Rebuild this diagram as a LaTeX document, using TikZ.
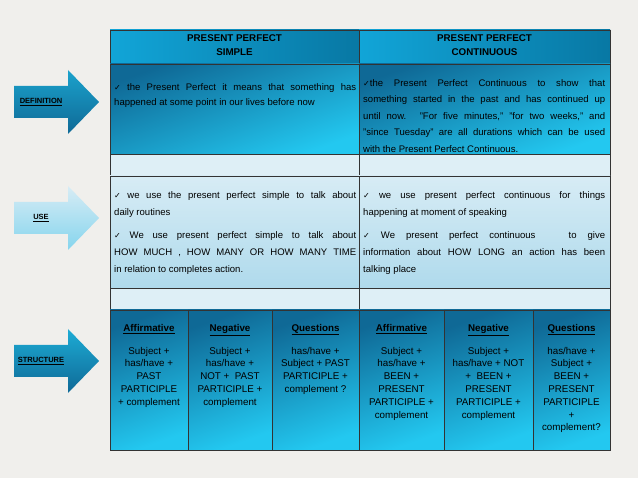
\documentclass[tikz,border=0pt]{standalone}
\usepackage{fontspec}
\setmainfont{Liberation Sans}
\newfontfamily\symf{DejaVu Sans}
\hyphenpenalty=10000
\exhyphenpenalty=10000
\hbadness=10000
\hfuzz=20pt
\definecolor{bg}{RGB}{240,239,236}
\definecolor{dkb}{RGB}{15,105,150}
\definecolor{brb}{RGB}{35,200,240}
\definecolor{hdb}{RGB}{10,150,205}
\definecolor{gapc}{RGB}{222,239,246}
\definecolor{lub}{RGB}{215,236,245}
\definecolor{lub2}{RGB}{175,218,236}
\newcommand{\ck}{{\symf\footnotesize ✓}}
\tikzset{
 cell/.style={draw=black!80, line width=0.8pt},
 dark/.style={cell, top color=dkb, bottom color=brb, shading angle=20},
 hdr/.style={cell, left color=hdb!70!brb, right color=hdb!80!black},
 gap/.style={cell, fill=gapc},
 light/.style={cell, top color=lub, bottom color=lub2},
 txt/.style={font=\fontsize{9.55}{17}\selectfont, align=justify, text width=242pt, anchor=north west, inner sep=0pt},
 htxt/.style={font=\fontsize{9.8}{14}\selectfont\bfseries, align=center},
 stxt/.style={font=\fontsize{9.8}{12.8}\selectfont, align=center, anchor=north, inner sep=0pt},
 alab/.style={font=\fontsize{7.5}{9}\selectfont\bfseries, anchor=center}
}
\newcommand{\arrowshape}[1]{(14,#1-16) -- (68,#1-16) -- (68,#1-32) -- (99,#1) -- (68,#1+32) -- (68,#1+16) -- (14,#1+16) -- cycle}
\begin{document}
\begin{tikzpicture}[x=1pt,y=-1pt]
\fill[bg] (0,0) rectangle (638,478);
\useasboundingbox (0,0) rectangle (638,478);
% header
\draw[hdr] (110,30) rectangle (359,64);
\draw[hdr] (359,30) rectangle (610,64);
\node[htxt] (h1) at (234.5,45) {PRESENT PERFECT\\SIMPLE};
\node[htxt] (h2) at (484.5,45) {PRESENT PERFECT\\CONTINUOUS};
% definition
\draw[dark] (110,64) rectangle (359,154);
\draw[dark] (359,64) rectangle (610,154);
\node[txt, font=\fontsize{9.55}{15}\selectfont] (d1) at (114,83) {\ck{} the Present Perfect it means that something has\linebreak happened at some point in our lives before now};
\node[txt, font=\fontsize{9.55}{16.5}\selectfont] (d2) at (363,79) {\ck{}the Present Perfect Continuous to show that\linebreak something started in the past and has continued up\linebreak until now. "For five minutes," "for two weeks," and\linebreak "since Tuesday" are all durations which can be used\linebreak with the Present Perfect Continuous.};
\draw[gap] (110,154) rectangle (359,176);
\draw[gap] (359,154) rectangle (610,176);
% use
\draw[light] (110,176) rectangle (359,288);
\draw[light] (359,176) rectangle (610,288);
\node[txt] (u1) at (114,191) {\ck{} we use the present perfect simple to talk about\linebreak daily routines\\[6pt]\ck{} We use present perfect simple to talk about\linebreak HOW MUCH , HOW MANY OR HOW MANY TIME\linebreak in relation to completes action.};
\node[txt] (u2) at (363,191) {\ck{} we use present perfect continuous for things\linebreak happening at moment of speaking\\[6pt]\ck{} We present perfect continuous \ \ to give\linebreak information about HOW LONG an action has been\linebreak talking place};
\draw[gap] (110,288) rectangle (359,310);
\draw[gap] (359,288) rectangle (610,310);
% structure
\foreach \a/\b in {110/188,188/272,272/359,359/444,444/533,533/610}{
 \draw[dark] (\a,310) rectangle (\b,450);}
\node[stxt] (s1) at (149,324) {\underline{\textbf{Affirmative}}\\[10pt]Subject +\\has/have +\\PAST\\PARTICIPLE\\+ complement};
\node[stxt] (s2) at (230,324) {\underline{\textbf{Negative}}\\[10pt]Subject +\\has/have +\\NOT + \ PAST\\PARTICIPLE +\\complement};
\node[stxt] (s3) at (315.5,324) {\underline{\textbf{Questions}}\\[10pt]has/have +\\Subject + PAST\\PARTICIPLE +\\complement ?};
\node[stxt] (s4) at (401.5,324) {\underline{\textbf{Affirmative}}\\[10pt]Subject +\\has/have +\\BEEN +\\PRESENT\\PARTICIPLE +\\complement};
\node[stxt] (s5) at (488.5,324) {\underline{\textbf{Negative}}\\[10pt]Subject +\\has/have + NOT\\+ \ BEEN +\\PRESENT\\PARTICIPLE +\\complement};
\node[stxt] (s6) at (571.5,324) {\underline{\textbf{Questions}}\\[10pt]has/have +\\Subject +\\BEEN +\\PRESENT\\PARTICIPLE\\+\\complement?};
% arrows
\shade[top color=dkb!40!brb, bottom color=dkb] \arrowshape{102};
\node[alab] (l1) at (41,102) {\underline{DEFINITION}};
\shade[top color=lub, bottom color=lub2!70!brb] \arrowshape{218};
\node[alab] (l2) at (41,218) {\underline{USE}};
\shade[top color=dkb!30!brb, bottom color=dkb] \arrowshape{361};
\node[alab] (l3) at (41,361) {\underline{STRUCTURE}};
\end{tikzpicture}
\end{document}
